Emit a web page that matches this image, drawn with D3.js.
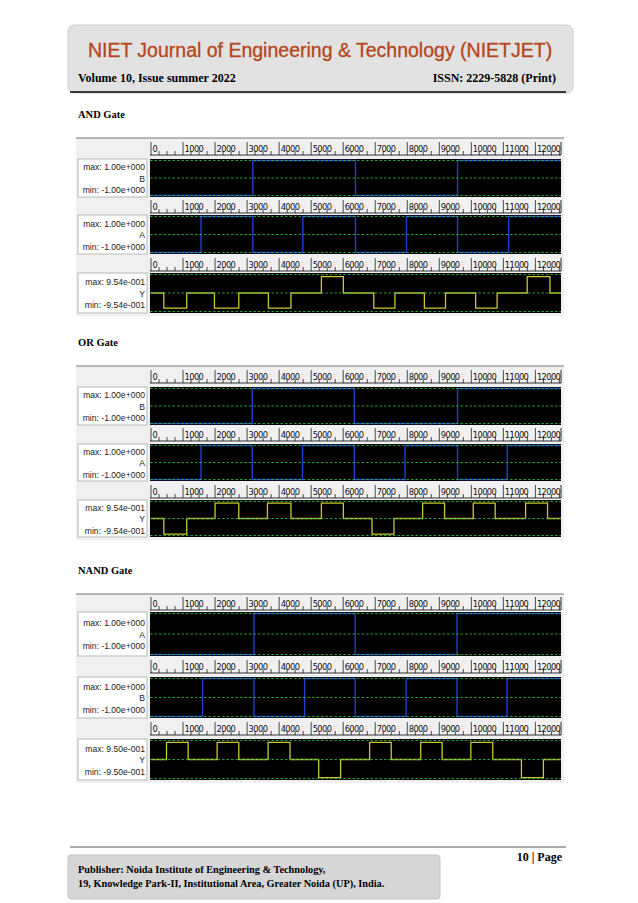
<!DOCTYPE html>
<html><head><meta charset="utf-8">
<script src="https://cdn.jsdelivr.net/npm/d3@7/dist/d3.min.js"></script>
<style>body{margin:0;background:#fff}svg{display:block}</style></head>
<body><svg id="c" width="638" height="903"></svg>
<script>
const ticks = [0,1000,2000,3000,4000,5000,6000,7000,8000,9000,10000,11000,12000];
const minorTicks = d3.range(0,12801,250);
const andB = [[0,-1],[3180,1],[6385,-1],[9570,1],[12800,1]];
const andA = [[0,-1],[1560,1],[3180,-1],[4740,1],[6385,-1],[7975,1],[9570,-1],[11165,1],[12800,1]];
const andY = [[0,0],[400,-0.82],[1115,0],[1980,-0.82],[2740,0],[3665,-0.82],[4370,0],[5320,0.88],[6005,0],[6955,-0.82],[7615,0],[8535,-0.82],[9195,0],[10135,-0.82],[10805,0],[11745,0.88],[12455,0],[12800,0]];
const orB = [[0,-1],[3160,1],[6350,-1],[9570,1],[12800,1]];
const orA = [[0,-1],[1560,1],[3160,-1],[4730,1],[6350,-1],[7930,1],[9570,-1],[11120,1],[12800,1]];
const orY = [[0,0],[400,-0.92],[1115,0],[2000,0.9],[2740,0],[3635,0.9],[4370,0],[5320,0.9],[6005,0],[6900,-0.92],[7585,0],[8480,0.9],[9165,0],[10060,0.9],[10745,0],[11695,0.9],[12380,0],[12800,0]];
const nandA = [[0,-1],[3215,1],[6375,-1],[9555,1],[12800,1]];
const nandB = [[0,-1],[1610,1],[3215,-1],[4795,1],[6375,-1],[7965,1],[9555,-1],[11115,1],[12800,1]];
const nandY = [[0,0],[485,0.9],[1160,0],[2065,0.9],[2740,0],[3655,0.9],[4340,0],[5235,-0.95],[5920,0],[6825,0.9],[7500,0],[8420,0.9],[9090,0],[9985,0.9],[10670,0],[11565,-0.95],[12250,0],[12800,0]];

const blocks = [
 {title:"AND Gate", ty:118, line:138, panels:[
   {ax:142, top:159, bot:197, name:"B", max:"1.00e+000", min:"-1.00e+000", data:andB, color:"#1f3fd0", w:1.4},
   {ax:200, top:215, bot:254, name:"A", max:"1.00e+000", min:"-1.00e+000", data:andA, color:"#1f3fd0", w:1.4},
   {ax:258, top:273, bot:313, name:"Y", max:"9.54e-001", min:"-9.54e-001", data:andY, color:"#c8c832", w:1.3}]},
 {title:"OR Gate", ty:346, line:366, panels:[
   {ax:370, top:387, bot:425, name:"B", max:"1.00e+000", min:"-1.00e+000", data:orB, color:"#1f3fd0", w:1.4},
   {ax:428, top:444, bot:481, name:"A", max:"1.00e+000", min:"-1.00e+000", data:orA, color:"#1f3fd0", w:1.4},
   {ax:485, top:500, bot:537, name:"Y", max:"9.54e-001", min:"-9.54e-001", data:orY, color:"#c8c832", w:1.3}]},
 {title:"NAND Gate", ty:574, line:594, panels:[
   {ax:597, top:612, bot:656, name:"A", max:"1.00e+000", min:"-1.00e+000", data:nandA, color:"#1f3fd0", w:1.4},
   {ax:660, top:677, bot:718, name:"B", max:"1.00e+000", min:"-1.00e+000", data:nandB, color:"#1f3fd0", w:1.4},
   {ax:722, top:739, bot:780, name:"Y", max:"9.50e-001", min:"-9.50e-001", data:nandY, color:"#c8c832", w:1.3}]}
];

const svg = d3.select("#c");
svg.append("rect").attr("x",68).attr("y",25).attr("width",505).attr("height",68).attr("rx",6).attr("fill","#e2e2e2").attr("stroke","#cfcfcf");
svg.append("text").attr("x",320).attr("y",57).attr("text-anchor","middle").attr("font-family","Liberation Sans, Arial").attr("font-size",19.5).attr("fill","#b5451b").attr("stroke","#b5451b").attr("stroke-width",0.3).text("NIET Journal of Engineering & Technology (NIETJET)");
svg.append("text").attr("x",78).attr("y",82).attr("font-family","Liberation Serif").attr("font-weight","bold").attr("font-size",12).text("Volume 10, Issue summer 2022");
svg.append("text").attr("x",556).attr("y",82).attr("text-anchor","end").attr("font-family","Liberation Serif").attr("font-weight","bold").attr("font-size",12).text("ISSN: 2229-5828 (Print)");
svg.append("line").attr("x1",70).attr("x2",566).attr("y1",92).attr("y2",92).attr("stroke","#000").attr("stroke-width",1.3);

blocks.forEach(b=>{
  svg.append("text").attr("x",78).attr("y",b.ty).attr("font-family","Liberation Serif").attr("font-weight","bold").attr("font-size",10.5).text(b.title);
  const last=b.panels[b.panels.length-1];
  svg.append("rect").attr("x",76).attr("y",b.line).attr("width",488).attr("height",last.bot+3-b.line).attr("fill","#f0f0f0");
  svg.append("line").attr("x1",76).attr("x2",564).attr("y1",b.line).attr("y2",b.line).attr("stroke","#a0a0a0").attr("stroke-width",1.5);
  b.panels.forEach(p=>{
    const x = d3.scaleLinear().domain([0,12800]).range([151,561]);
    const y = d3.scaleLinear().domain([-1,1]).range([p.bot-1.5,p.top+1.5]);
    const g = svg.append("g");
    g.append("line").attr("x1",150).attr("x2",561).attr("y1",p.ax+13).attr("y2",p.ax+13).attr("stroke","#000").attr("stroke-width",0.8);
    g.append("line").attr("x1",561).attr("x2",561).attr("y1",p.ax).attr("y2",p.ax+13).attr("stroke","#000").attr("stroke-width",0.8);
    g.selectAll(".mn").data(minorTicks.filter(t=>t%1000)).join("line").attr("x1",d=>x(d)).attr("x2",d=>x(d)).attr("y1",p.ax+9).attr("y2",p.ax+13).attr("stroke","#000").attr("stroke-width",0.7);
    g.selectAll(".mj").data(ticks).join("line").attr("x1",d=>x(d)).attr("x2",d=>x(d)).attr("y1",p.ax).attr("y2",p.ax+13).attr("stroke","#000").attr("stroke-width",0.7);
    g.selectAll(".tl").data(ticks).join("text").attr("x",d=>x(d)+1.5).attr("y",p.ax+10).attr("font-family","DejaVu Sans, sans-serif").attr("font-size",8.3).attr("letter-spacing",-0.6).attr("fill","#111").text(d=>d);
    svg.append("rect").attr("x",78).attr("y",p.top).attr("width",69).attr("height",p.bot-p.top).attr("fill","#fff").attr("stroke","#b8b8b8");
    const lt = svg.append("g").attr("font-family","Liberation Sans, Arial").attr("font-size",8.6).attr("fill","#222").attr("text-anchor","end");
    const mid=(p.top+p.bot)/2;
    lt.append("text").attr("x",145).attr("y",mid-8).text("max: "+p.max);
    lt.append("text").attr("x",145).attr("y",mid+3.5).text(p.name);
    lt.append("text").attr("x",145).attr("y",mid+15).text("min: "+p.min);
    svg.append("rect").attr("x",150).attr("y",p.top).attr("width",411).attr("height",p.bot-p.top).attr("fill","#000");
    const line = d3.line().x(d=>x(d[0])).y(d=>y(d[1])).curve(d3.curveStepAfter);
    svg.append("path").datum(p.data).attr("d",line).attr("fill","none").attr("stroke",p.color).attr("stroke-width",p.w);
    [-1,0,1].forEach(v=>{
      svg.append("line").attr("x1",150).attr("x2",561).attr("y1",y(v)).attr("y2",y(v)).attr("stroke","#2fae3a").attr("stroke-width",0.9).attr("stroke-dasharray","2.5,2");
    });
  });
});

svg.append("line").attr("x1",70).attr("x2",566).attr("y1",847).attr("y2",847).attr("stroke","#555").attr("stroke-width",1);
svg.append("text").attr("x",562).attr("y",861).attr("text-anchor","end").attr("font-family","Liberation Serif").attr("font-weight","bold").attr("font-size",12).text("10 | Page");
svg.append("rect").attr("x",68).attr("y",855).attr("width",372).attr("height",44).attr("rx",3).attr("fill","#d6d6d6").attr("stroke","#c4c4c4");
svg.append("text").attr("x",78).attr("y",873).attr("font-family","Liberation Serif").attr("font-weight","bold").attr("font-size",10.3).text("Publisher: Noida Institute of Engineering & Technology,");
svg.append("text").attr("x",78).attr("y",887).attr("font-family","Liberation Serif").attr("font-weight","bold").attr("font-size",10.3).text("19, Knowledge Park-II, Institutional Area, Greater Noida (UP), India.");
</script></body></html>
